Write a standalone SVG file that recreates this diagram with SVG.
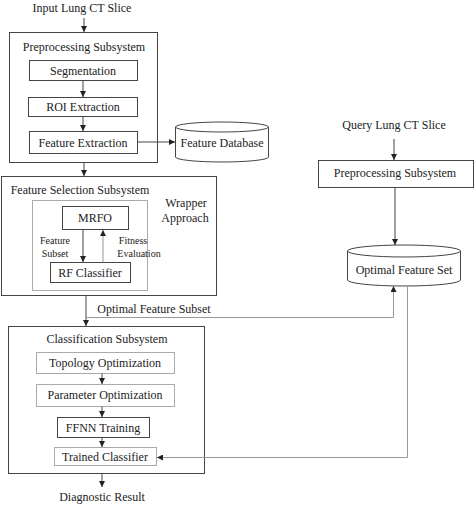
<svg xmlns="http://www.w3.org/2000/svg" width="474" height="505" viewBox="0 0 474 505">
<style>
text{font-family:"Liberation Serif","Times New Roman","DejaVu Serif",serif;font-size:12px;fill:#222;text-anchor:middle}
.s{font-size:10px}
.b{fill:#fff;stroke:#444;stroke-width:1}
.g{fill:#fff;stroke:#aaa;stroke-width:1}
.l{fill:none;stroke:#444;stroke-width:1}
.lg{fill:none;stroke:#999;stroke-width:1}
</style>
<defs>
<marker id="a" viewBox="0 0 10 10" refX="10" refY="5" markerWidth="6" markerHeight="6" orient="auto"><path d="M0,0L10,5L0,10z" fill="#222"/></marker>
</defs>
<rect width="474" height="505" fill="#fff"/>
<g id="input"><text x="82" y="12">Input Lung CT Slice</text></g>
<g id="preproc"><rect class="b" x="9.5" y="32.5" width="148" height="130"/><text x="84" y="51" font-size="12.5">Preprocessing Subsystem</text></g>
<g id="seg"><rect class="b" x="29.5" y="60.5" width="108" height="20"/><text x="83" y="75">Segmentation</text></g>
<g id="roi"><rect class="b" x="28.5" y="97.5" width="109" height="19"/><text x="83" y="111">ROI Extraction</text></g>
<g id="fe"><rect class="b" x="29.5" y="131.5" width="108" height="22"/><text x="83" y="147">Feature Extraction</text></g>
<g id="fdb"><path class="b" d="M175.5,127 A46.5,5 0 0 1 268.5,127 V157 A46.5,5 0 0 1 175.5,157 Z"/><path class="l" d="M175.5,127 A46.5,5 0 0 0 268.5,127"/><text x="222" y="147">Feature Database</text></g>
<g id="fs"><rect class="b" x="1.5" y="176.5" width="215" height="119"/><text x="80" y="194">Feature Selection Subsystem</text></g>
<g id="wrapper"><rect class="g" x="32.5" y="200.5" width="115" height="90"/><text x="186" y="207">Wrapper</text><text x="185" y="222">Approach</text></g>
<g id="mrfo"><rect class="b" x="62.5" y="206.5" width="66" height="23"/><text x="95" y="222">MRFO</text></g>
<g id="rf"><rect class="b" x="50.5" y="262.5" width="80" height="20"/><text x="90" y="277">RF Classifier</text></g>
<g id="labels">
<text class="s" x="55" y="244">Feature</text><text class="s" x="55" y="257">Subset</text>
<text class="s" x="133" y="244">Fitness</text><text class="s" x="139" y="257">Evaluation</text>
</g>
<g id="cls"><rect class="b" x="8.5" y="326.5" width="196" height="147"/><text x="107" y="343">Classification Subsystem</text></g>
<g id="topo"><rect class="g" x="36.5" y="352.5" width="138" height="21"/><text x="105" y="367">Topology Optimization</text></g>
<g id="param"><rect class="g" x="36.5" y="384.5" width="138" height="22"/><text x="105" y="399">Parameter Optimization</text></g>
<g id="ffnn"><rect class="b" x="57.5" y="417.5" width="92" height="20"/><text x="103" y="432">FFNN Training</text></g>
<g id="trained"><rect class="g" x="54.5" y="447.5" width="102" height="18"/><text x="105" y="461">Trained Classifier</text></g>
<g id="diag"><text x="102" y="501">Diagnostic Result</text></g>
<g id="query"><text x="394" y="129">Query Lung CT Slice</text></g>
<g id="qpre"><rect class="b" x="318.5" y="160.5" width="155" height="27"/><text x="395" y="177">Preprocessing Subsystem</text></g>
<g id="ofs"><path class="b" d="M347.5,251 A56.5,6 0 0 1 460.5,251 V280 A56.5,6 0 0 1 347.5,280 Z"/><path class="l" d="M347.5,251 A56.5,6 0 0 0 460.5,251"/><text x="404" y="274">Optimal Feature Set</text></g>
<g id="ofs-label"><text x="154" y="313">Optimal Feature Subset</text></g>
<g id="connectors">
<path class="l" d="M84,18V32" marker-end="url(#a)"/>
<path class="l" d="M83,80.5V97" marker-end="url(#a)"/>
<path class="l" d="M83,116.5V131" marker-end="url(#a)"/>
<path class="l" d="M137.5,142H175" marker-end="url(#a)"/>
<path class="l" d="M84,162.5V176" marker-end="url(#a)"/>
<path class="l" d="M83,229.5V262" marker-end="url(#a)"/>
<path class="lg" d="M103,262.5V230" marker-end="url(#a)"/>
<path class="l" d="M86,295.5V326" marker-end="url(#a)"/>
<path class="lg" d="M86,317.5H393.5V286" marker-end="url(#a)"/>
<path class="l" d="M102,373.5V384" marker-end="url(#a)"/>
<path class="l" d="M102,406.5V417" marker-end="url(#a)"/>
<path class="l" d="M102,437.5V447" marker-end="url(#a)"/>
<path class="lg" d="M407.5,286V457.5H157" marker-end="url(#a)"/>
<path class="l" d="M102,473.5V487" marker-end="url(#a)"/>
<path class="l" d="M394,139V160" marker-end="url(#a)"/>
<path class="l" d="M395,187.5V245" marker-end="url(#a)"/>
</g>
</svg>
